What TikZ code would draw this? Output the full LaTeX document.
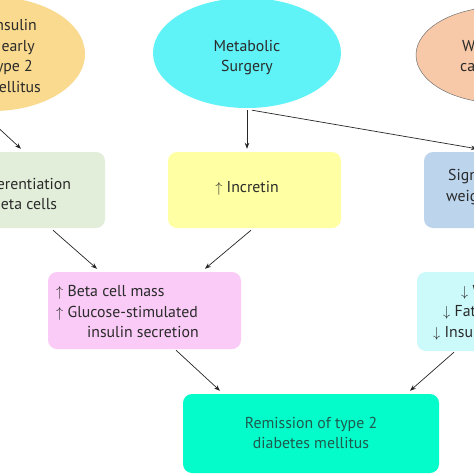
\documentclass[tikz,border=0pt]{standalone}
\usepackage{fontspec}
\setmainfont{PT Sans}
\usetikzlibrary{shapes.geometric,arrows.meta}
\definecolor{cLell}{HTML}{F9DA8F}
\definecolor{cMell}{HTML}{5FF3F8}
\definecolor{cRell}{HTML}{F8C9A8}
\definecolor{cDiff}{HTML}{E2EEDA}
\definecolor{cIncr}{HTML}{FFFFA3}
\definecolor{cSig}{HTML}{BCD4EC}
\definecolor{cBeta}{HTML}{F9CBF6}
\definecolor{cFat}{HTML}{CCFAFB}
\definecolor{cRem}{HTML}{04FCCA}
\definecolor{cTxt}{HTML}{2A2A2A}
\definecolor{cRemTxt}{HTML}{1E5A4E}
\begin{document}
\begin{tikzpicture}[x=1pt,y=-1pt,
  oval/.style={ellipse,inner sep=0pt,draw=none},
  box/.style={rectangle,rounded corners=9pt,inner sep=0pt,draw=none},
  txt/.style={text=cTxt,font=\fontsize{15.8}{20.5}\selectfont,inner sep=0pt},
  arr/.style={draw=black!85,line width=0.7pt,-{Stealth[length=6pt,width=4.5pt]}}]
\useasboundingbox (0,0) rectangle (474,474);
\clip (0,0) rectangle (474,474);
\fill[white] (0,0) rectangle (474,474);
% ellipses
\node[oval,fill=cLell,minimum width=184pt,minimum height=114pt] (lell) at (-7,54) {};
\node[oval,fill=cMell,minimum width=188pt,minimum height=110pt] (mell) at (247,53) {};
\node[oval,fill=cRell,draw=black!55,line width=0.5pt,minimum width=168pt,minimum height=96pt] (rell) at (500,55) {};
% boxes
\node[box,fill=cDiff,minimum width=174pt,minimum height=76pt] (ldiff) at (18,190) {};
\node[box,fill=cIncr,minimum width=173pt,minimum height=76pt] (incr) at (254.5,190) {};
\node[box,fill=cSig,minimum width=174pt,minimum height=76pt] (sigw) at (511,190) {};
\node[box,fill=cBeta,minimum width=193pt,minimum height=77pt] (beta) at (144.5,310.5) {};
\node[box,fill=cFat,minimum width=193pt,minimum height=79pt] (fat) at (513.5,311.5) {};
\node[box,fill=cRem,minimum width=256pt,minimum height=79pt] (rem) at (311,433.5) {};
% texts
\node[txt,anchor=east,align=right] (tlell) at (41,56) {Insulin\rule{4pt}{0pt}\\in early\rule{6pt}{0pt}\\type 2\rule{8pt}{0pt}\\mellitus};
\node[txt,align=center] (tmell) at (247,57.5) {Metabolic\\Surgery};
\node[txt,anchor=west,align=left] (trell) at (460,56) {\hspace*{2pt}Weight\\calorie};
\node[txt,align=center] (tdiff) at (16,194) {$\uparrow$ Differentiation\\of beta cells};
\node[txt] (tincr) at (247,188) {$\uparrow$ Incretin};
\node[txt,anchor=west,align=left] (tsig) at (446,187) {\hspace*{2pt}Significant\\weight loss};
\node[txt,anchor=west,align=left] (tbeta) at (56,311.5) {$\uparrow$ Beta cell mass\\$\uparrow$ Glucose-stimulated\\\hspace*{31pt}insulin secretion};
\node[txt,anchor=west,align=left] (tfat) at (433,312.5) {\hspace*{28pt}$\downarrow$ Weight\\\hspace*{10pt}$\downarrow$ Fat mass\\$\downarrow$ Insulin resistance};
\node[txt,text=cRemTxt,align=center] (trem) at (311,433) {Remission of type 2\\diabetes mellitus};
% connectors
\draw[arr] ([shift={(-4,8)}]lell.south) -- ([shift={(3,-3)}]ldiff.north);
\draw[arr] ([shift={(0,2)}]mell.south) -- ([shift={(-7.5,-3)}]incr.north);
\draw[arr] ([shift={(5,2)}]mell.south) -- ([shift={(-34,-3)}]sigw.north);
\draw[arr] ([shift={(35,2)}]ldiff.south) -- ([shift={(-47.5,-3)}]beta.north);
\draw[arr] ([shift={(-3.5,2)}]incr.south) -- ([shift={(60.5,-3)}]beta.north);
\draw[arr] ([shift={(31.5,1)}]beta.south) -- ([shift={(-91,-3)}]rem.north);
\draw[arr] ([shift={(-59.5,1)}]fat.south) -- ([shift={(99,-3)}]rem.north);
\end{tikzpicture}
\end{document}
